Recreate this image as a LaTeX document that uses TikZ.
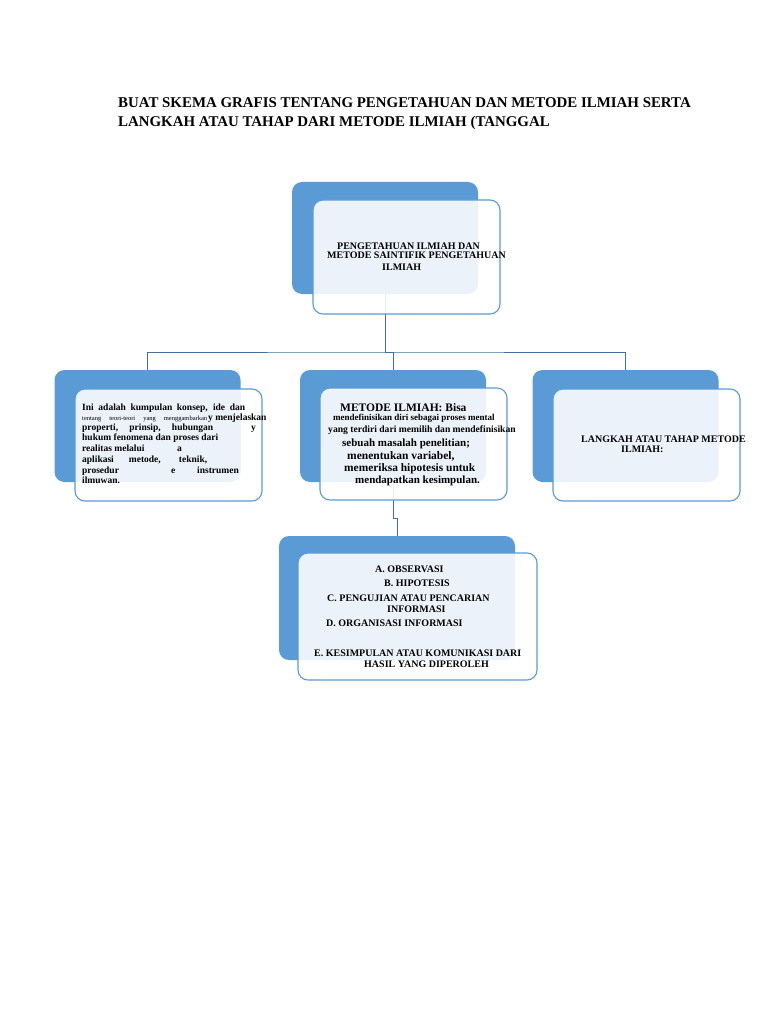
\documentclass[tikz,border=0pt]{standalone}
\usepackage{fontspec}
\setmainfont{Liberation Serif}
\usepackage{xcolor}
\usetikzlibrary{positioning}
\definecolor{boxblue}{HTML}{5B9BD5}
\definecolor{linkblue}{HTML}{41719C}

\begin{document}
\begin{tikzpicture}[x=1pt,y=-1pt]
  \tikzstyle{back}=[fill=boxblue,rounded corners=10pt,minimum width=186pt,minimum height=112pt,inner sep=0pt]
  \tikzstyle{front}=[draw=boxblue,line width=1.1pt,fill=white,fill opacity=0.88,rounded corners=10pt,minimum width=187pt,minimum height=112pt,inner sep=0pt]
  \tikzstyle{link}=[draw=linkblue,line width=1pt]
  \tikzstyle{txt}=[anchor=base west,inner sep=0pt,font=\bfseries\fontsize{10}{12}\selectfont]
  \tikzstyle{small}=[anchor=base west,inner sep=0pt,font=\bfseries\fontsize{9.5}{11}\selectfont]
  \fill[white] (0,0) rectangle (768,1024);
  \useasboundingbox (0,0) rectangle (768,1024);

  % title
  \node[anchor=base west,inner sep=0pt,font=\bfseries\fontsize{14.9}{18}\selectfont] (title1) at (118,108) {BUAT SKEMA GRAFIS TENTANG PENGETAHUAN DAN METODE ILMIAH SERTA};
  \node[anchor=base west,inner sep=0pt,font=\bfseries\fontsize{14.9}{18}\selectfont] (title2) at (118,127) {LANGKAH ATAU TAHAP DARI METODE ILMIAH (TANGGAL};

  % back boxes
  \node[back] (topb) at (385,238) {};
  \node[back] (leftb) at (147.5,426) {};
  \node[back] (midb) at (393,426) {};
  \node[back] (rightb) at (625.5,426) {};
  \node[back,minimum width=236pt,minimum height=124pt] (botb) at (397,598) {};

  % connectors
  \coordinate (bus) at (385,352);
  \draw[link] (topb.south) -- (bus);
  \draw[link] (leftb.north) |- (bus) -| (rightb.north);
  \draw[link] (bus) -| (midb.north);
  \draw[link] (midb.south) -- ++(0,36) -| (botb.north);

  % front boxes
  \node[front,minimum height=114pt] (topf) at ([shift={(21.5,19)}]topb.center) {};
  \node[front] (leftf) at ([shift={(21,19)}]leftb.center) {};
  \node[front] (midf) at ([shift={(20.5,18)}]midb.center) {};
  \node[front] (rightf) at ([shift={(21,19)}]rightb.center) {};
  \node[front,minimum width=239pt,minimum height=127pt] (botf) at ([shift={(20.5,18.5)}]botb.center) {};

  % top text
  \node[txt] (tp1) at (337,249) {PENGETAHUAN ILMIAH DAN};
  \node[txt] (tp2) at (327,258.5) {METODE SAINTIFIK PENGETAHUAN};
  \node[txt] (tp3) at (382,270) {ILMIAH};

  % left text
  \node[small] (lt1) at (82,410) {\makebox[163pt][s]{Ini adalah kumpulan konsep, ide dan}};
  \node[anchor=base west,inner sep=0pt,font=\fontsize{6.5}{7}\selectfont] (lt2a) at (82,420) {\makebox[125pt][s]{tentang teori-teori yang menggambarkan}};
  \node[small] (lt2b) at (208,420) {y menjelaskan};
  \node[small] (lt3a) at (82,430) {\makebox[131pt][s]{properti, prinsip, hubungan}};
  \node[small] (lt3b) at (251,430) {y};
  \node[small] (lt4) at (82,440) {hukum fenomena dan proses dari};
  \node[small] (lt5a) at (82,451) {realitas melalui};
  \node[small] (lt5b) at (177,451) {a};
  \node[small] (lt6) at (82,462) {\makebox[125pt][s]{aplikasi metode, teknik,}};
  \node[small] (lt7a) at (82,473) {prosedur};
  \node[small] (lt7b) at (171,473) {e};
  \node[small] (lt7c) at (197,473) {instrumen};
  \node[small] (lt8) at (82,483) {ilmuwan.};

  % middle text
  \node[txt,font=\bfseries\fontsize{11.5}{13}\selectfont] (mt1) at (340,411) {METODE ILMIAH: Bisa};
  \node[txt,font=\bfseries\fontsize{9}{11}\selectfont] (mt2) at (333,420.5) {mendefinisikan diri sebagai proses mental};
  \node[txt,font=\bfseries\fontsize{9.6}{11}\selectfont] (mt3) at (328,432) {yang terdiri dari memilih dan mendefinisikan};
  \node[txt,font=\bfseries\fontsize{11}{13}\selectfont] (mt4) at (342,446) {sebuah masalah penelitian;};
  \node[txt,font=\bfseries\fontsize{11.5}{13}\selectfont] (mt5) at (347,459) {menentukan variabel,};
  \node[txt,font=\bfseries\fontsize{11.4}{13}\selectfont] (mt6) at (344,471) {memeriksa hipotesis untuk};
  \node[txt,font=\bfseries\fontsize{11}{13}\selectfont] (mt7) at (355,483) {mendapatkan kesimpulan.};

  % right text
  \node[txt] (rt1) at (581,442) {LANGKAH ATAU TAHAP METODE};
  \node[txt] (rt2) at (621,452) {ILMIAH:};

  % bottom text
  \node[txt] (bt1) at (375,572) {A. OBSERVASI};
  \node[txt] (bt2) at (384,586) {B. HIPOTESIS};
  \node[txt] (bt3) at (327,601) {C. PENGUJIAN ATAU PENCARIAN};
  \node[txt] (bt4) at (387,612) {INFORMASI};
  \node[txt] (bt5) at (326,626) {D. ORGANISASI INFORMASI};
  \node[txt] (bt6) at (314,656) {E. KESIMPULAN ATAU KOMUNIKASI DARI};
  \node[txt] (bt7) at (364,667) {HASIL YANG DIPEROLEH};
\end{tikzpicture}
\end{document}
